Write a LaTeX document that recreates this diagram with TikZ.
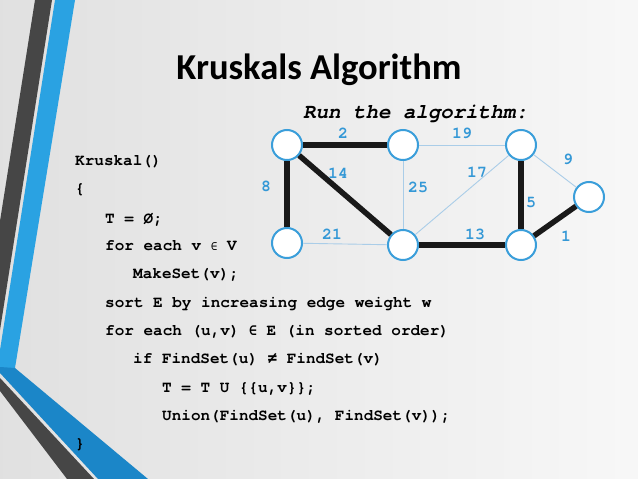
\documentclass[tikz,border=0pt]{standalone}
\usepackage{fontspec}
\setmainfont{TeX Gyre Cursor}
\newfontfamily\titlefont{Carlito}
\newfontfamily\symfont{DejaVu Sans Mono}
\definecolor{skyblue}{RGB}{42, 162, 226}
\definecolor{deepblue}{RGB}{27, 134, 200}
\definecolor{charcoal}{RGB}{70, 70, 70}
\definecolor{vertexblue}{RGB}{58, 158, 218}
\definecolor{weightblue}{RGB}{52, 152, 214}
\definecolor{faintblue}{RGB}{170, 205, 232}
\tikzset{
    vertex/.style={circle, draw=vertexblue, fill=white, line width=2pt, minimum size=30pt, inner sep=0pt},
    chosen/.style={black!90, line width=5.5pt},
    unused/.style={faintblue, line width=0.9pt},
    weight/.style={text=weightblue, inner sep=0pt, font=\bfseries\fontsize{16.5}{16}\selectfont},
    codeline/.style={anchor=base west, inner sep=0pt, font=\bfseries\fontsize{16}{16}\selectfont}
}

\begin{document}
\begin{tikzpicture}[x=1pt, y=-1pt]
            % background and side stripes
            \shade[left color=gray!24, right color=gray!6] (0,0) rectangle (638,479);
            \useasboundingbox (0,0) rectangle (638,479);
            \fill[charcoal]  (35,0) -- (52,0) -- (0,330) -- (0,221) -- cycle;
            \fill[skyblue]   (55,0) -- (75,0) -- (15,368) -- (0,368) -- (0,350) -- cycle;
            \fill[deepblue]  (0,367) -- (15,368) -- (148,479) -- (98,479) -- (0,373) -- cycle;
            \fill[charcoal]  (0,378) -- (94,479) -- (67,479) -- (0,391) -- cycle;

            % titles
            \node[anchor=base, inner sep=0pt, font=\titlefont\bfseries\fontsize{36.5}{36}\selectfont] (title) at (319,79) {Kruskals Algorithm};
            \node[anchor=base west, inner sep=0pt, font=\bfseries\itshape\fontsize{20.8}{21}\selectfont] (run) at (303,118) {Run the algorithm:};

            % pseudocode
            \node[codeline] (k1)  at (75,165)  {Kruskal()};
            \node[codeline] (k2)  at (75,193)  {\{};
            \node[codeline] (k3)  at (105,223) {T = Ø;};
            \node[codeline] (k4)  at (105,250) {for each v {\symfont\mdseries\fontsize{11}{11}\selectfont ∈} V};
            \node[codeline] (k5)  at (133,278) {MakeSet(v);};
            \node[codeline] (k6)  at (105,307) {sort E by increasing edge weight w};
            \node[codeline] (k7)  at (105,335) {for each (u,v) {\symfont\fontsize{13}{13}\selectfont ∈} E (in sorted order)};
            \node[codeline] (k8)  at (133,363) {if FindSet(u) {\symfont ≠} FindSet(v)};
            \node[codeline] (k9)  at (162,392) {T = T U \{\{u,v\}\};};
            \node[codeline] (k10) at (162,420) {Union(FindSet(u), FindSet(v));};
            \node[codeline] (k11) at (75,448)  {\}};

            % graph
            \node[vertex] (a) at (287,145) {};
            \node[vertex] (b) at (403,145) {};
            \node[vertex] (c) at (521,145) {};
            \node[vertex] (d) at (589,197) {};
            \node[vertex] (e) at (287,243) {};
            \node[vertex] (f) at (403,245) {};
            \node[vertex] (g) at (521,245) {};

            \draw[unused] (b) -- (c);
            \draw[unused] (b) -- (f);
            \draw[unused] (e) -- (f);
            \draw[unused] (f) -- (c);
            \draw[unused] (c) -- (d);
            \draw[chosen] (a) -- (b);
            \draw[chosen] (a) -- (e);
            \draw[chosen] (a) -- (f);
            \draw[chosen] (f) -- (g);
            \draw[chosen] (c) -- (g);
            \draw[chosen] (g) -- (d);

            \node[weight] (w2)  at (343,133) {2};
            \node[weight] (w19) at (462,133) {19};
            \node[weight] (w9)  at (568,159) {9};
            \node[weight] (w14) at (338,173) {14};
            \node[weight] (w17) at (477,172) {17};
            \node[weight] (w8)  at (266,186) {8};
            \node[weight] (w25) at (418,187) {25};
            \node[weight] (w5)  at (531,202) {5};
            \node[weight] (w21) at (332,234) {21};
            \node[weight] (w13) at (475,234) {13};
            \node[weight] (w1)  at (566,236) {1};
        \end{tikzpicture}
\end{document}
